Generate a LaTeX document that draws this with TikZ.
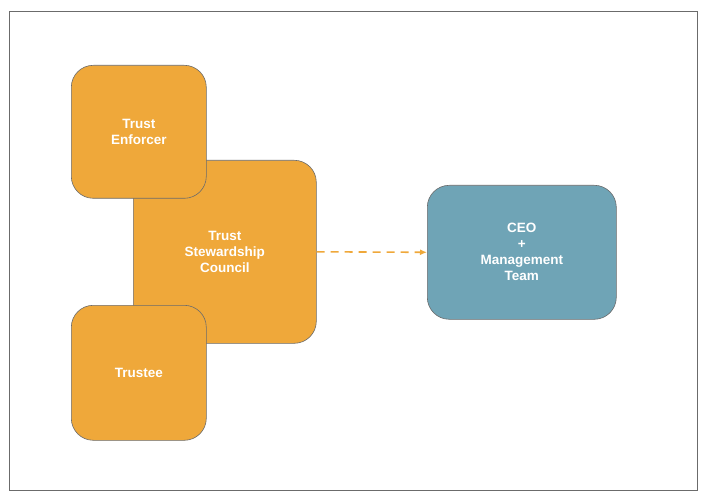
\documentclass[tikz,border=0pt]{standalone}
\usepackage{fontspec}
\setmainfont{Liberation Sans}
\usetikzlibrary{arrows.meta}
\definecolor{org}{HTML}{EFA83A}
\definecolor{blu}{HTML}{6FA4B6}
\definecolor{edg}{HTML}{6B6B6B}
\begin{document}
\begin{tikzpicture}[x=1pt,y=-1pt,
  box/.style={draw=edg,line width=0.6pt,rounded corners=22pt,minimum width=#1,text=white,font=\bfseries\fontsize{13.5}{16}\selectfont,align=center,inner sep=0pt},
  ]
\path[use as bounding box] (0,0) rectangle (710,500);
\draw[draw=edg,line width=0.8pt] (9,11) rectangle (697,490);
\node[box=183pt,minimum height=183pt,fill=org,anchor=north west] (tsc) at (133,160) {Trust\\Stewardship\\Council};
\node[box=135pt,minimum height=133pt,fill=org,anchor=north west] (te) at (71,65) {Trust\\Enforcer};
\node[box=135pt,minimum height=135pt,fill=org,anchor=north west] (tr) at (71,305) {Trustee};
\node[box=189pt,minimum height=134pt,fill=blu,anchor=north west] (ceo) at (427,185) {CEO\\+\\Management\\Team};
\draw[org,line width=1.6pt,dash pattern=on 8pt off 6pt,-{Latex[length=7pt,width=6pt]}] (tsc.east) -- (ceo.west);
\end{tikzpicture}
\end{document}
